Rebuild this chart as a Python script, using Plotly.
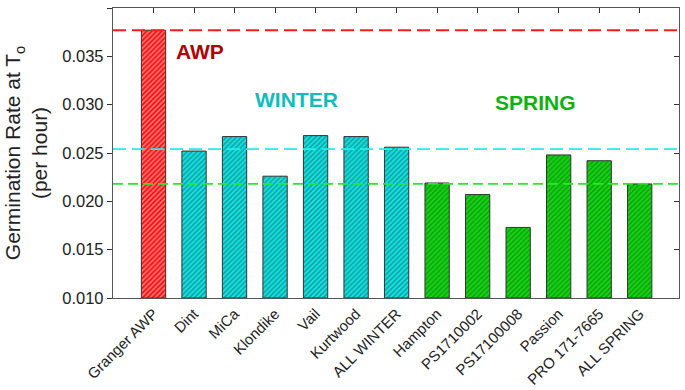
import plotly.graph_objects as go

categories = ["Granger AWP", "Dint", "MiCa", "Klondike", "Vail", "Kurtwood", "ALL WINTER",
              "Hampton", "PS1710002", "PS17100008", "Passion", "PRO 171-7665", "ALL SPRING"]
rates = [0.0377, 0.0252, 0.0267, 0.0226, 0.0268, 0.0267, 0.0256,
         0.0219, 0.0207, 0.0173, 0.0248, 0.0242, 0.0218]
groups = ["AWP"] + ["WINTER"] * 6 + ["SPRING"] * 6
group_fill = {"AWP": "#ff0000", "WINTER": "#00f0f0", "SPRING": "#00e600"}
ref_lines = {"AWP": 0.0377, "WINTER": 0.0254, "SPRING": 0.0218}
line_colors = {"AWP": "#ff1a1a", "WINTER": "#22eeee", "SPRING": "#22ee22"}
label_colors = {"AWP": "#b00000", "WINTER": "#10bcbc", "SPRING": "#10b010"}
label_pos = {"AWP": (1.14, 0.03545), "WINTER": (3.52, 0.0305), "SPRING": (9.43, 0.0302)}
y_ticks = [0.010, 0.015, 0.020, 0.025, 0.030, 0.035, 0.040]

fig = go.Figure()
fig.add_trace(go.Bar(
    x=categories, y=[r - 0.010 for r in rates], base=0.010,
    width=0.6,
    marker=dict(color=[group_fill[g] for g in groups],
                line=dict(color="#333333", width=1),
                pattern=dict(shape="/", fgcolor="#000000", size=3.5, solidity=0.5,
                             bgcolor=[group_fill[g] for g in groups])),
    showlegend=False, hoverinfo="skip",
))

dashes = {"AWP": "13px,6px", "WINTER": "13px,6px", "SPRING": "10px,5px"}
for g, v in ref_lines.items():
    fig.add_shape(type="line", xref="paper", yref="y", x0=0, x1=1, y0=v, y1=v,
                  line=dict(color=line_colors[g], width=1.8, dash=dashes[g]))

for g, (xp, yp) in label_pos.items():
    fig.add_annotation(x=xp, y=yp, xref="x", yref="y", text=f"<b>{g}</b>",
                       showarrow=False, font=dict(size=21, color=label_colors[g],
                                                  family="Liberation Sans, Arial"))

# invisible trace for mirror axes
fig.add_trace(go.Scatter(x=categories, y=[None]*len(categories), xaxis="x2", yaxis="y2",
                         showlegend=False, hoverinfo="skip"))

fig.update_layout(
    width=685, height=390,
    margin=dict(l=113, r=6, t=8, b=92),
    plot_bgcolor="white", paper_bgcolor="white",
    font=dict(family="Liberation Sans, Arial", color="#222222"),
    xaxis=dict(range=[-1.0, 12.97], tickangle=-45, ticks="", showline=True,
               linecolor="#555555", linewidth=1.2, tickfont=dict(size=15),
               showgrid=False, automargin=False),
    xaxis2=dict(overlaying="x", side="top", range=[-1.0, 12.97], ticks="inside",
                ticklen=5, tickcolor="#333333", showticklabels=False, showline=True,
                linecolor="#555555", linewidth=1.2, showgrid=False, automargin=False,
                tickmode="array", tickvals=list(range(len(categories)))),
    yaxis=dict(range=[0.010, 0.040], tickvals=y_ticks,
               ticktext=[f"{t:.3f}" for t in y_ticks], ticks="outside", ticklen=5,
               tickcolor="#333333", showline=True, linecolor="#555555", linewidth=1.2,
               tickfont=dict(size=16.5), showgrid=False, zeroline=False, automargin=False,
               title=dict(text="Germination Rate at T<sub>o</sub><br>(per hour)",
                          font=dict(size=21), standoff=8)),
    yaxis2=dict(overlaying="y", side="right", range=[0.010, 0.040], tickvals=y_ticks,
                ticks="inside", ticklen=5, tickcolor="#333333", showticklabels=False,
                showline=True, linecolor="#555555", linewidth=1.2, showgrid=False,
                zeroline=False, automargin=False),
)

fig.write_html("out.html", config={"displayModeBar": False, "staticPlot": True},
               post_script="document.body.style.margin='0';document.body.style.overflow='hidden';")
